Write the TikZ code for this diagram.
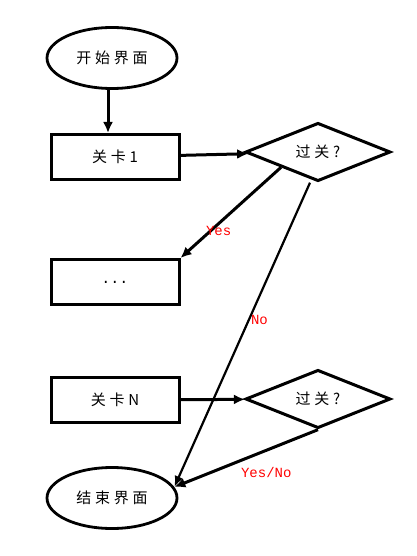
\documentclass[tikz,border=0pt]{standalone}
\usepackage{fontspec}
\setmainfont{Liberation Serif}
\newfontfamily\cjk[LetterSpace=25]{Noto Sans CJK SC}
\newfontfamily\lblfont{Liberation Mono}
\usepackage{tikz}
\usetikzlibrary{shapes.geometric,positioning,arrows.meta}
\definecolor{colorlbl}{HTML}{FF0000}
\tikzset{term/.style={draw,ellipse,line width=2.8pt,minimum width=130,minimum height=61,inner sep=0pt,font=\cjk\fontsize{15}{17}\selectfont}}
\tikzset{level/.style={draw,rectangle,line width=3pt,minimum width=128,minimum height=45,inner sep=0pt,font=\cjk\fontsize{15}{17}\selectfont}}
\tikzset{test/.style={draw,diamond,line width=3pt,minimum width=145,minimum height=56,inner sep=0pt,font=\cjk\fontsize{15}{17}\selectfont}}
\tikzset{
  edgego/.style={black,line width=3pt,-{Latex[length=11pt,width=10pt]}},
  edgeyes/.style={black,line width=3pt,-{Latex[length=11pt,width=10pt]}},
  edgeno/.style={black,line width=2.2pt,-{Latex[length=11pt,width=9pt]}},
  lbl/.style={colorlbl,font=\lblfont\fontsize{14}{16}\selectfont,inner sep=1pt}
}

\begin{document}
\begin{tikzpicture}[x=1pt,y=-1pt,inner sep=1pt]
\useasboundingbox (0,0) rectangle (416,556);
\node[term] (start) at (112,58) {开始界面};
\node[level] (lv1) at (115,157) {关卡1};
\node[test] (t1) at (318,152) {过关?};
\node[level] (lvdots) at (115,282) {\lblfont ...};
\node[level] (lvN) at (115,400) {关卡N};
\node[test] (tN) at (318,399) {过关?};
\node[term] (stop) at (112,498) {结束界面};
\draw[edgego] ([xshift=-4]start.south) -- ([xshift=-4]start.south |- lv1.north);
\draw[edgego] (lv1) -- (t1);
\draw[edgego] (lvN) -- (tN);
\draw[edgeyes] (t1.south west) to node[lbl,pos=0.62,yshift=-7] {Yes} (lvdots.north east);
\draw[edgeno] ([xshift=-8]t1.south) to node[lbl,pos=0.45,right] {No} (stop.10);
\draw[edgeyes] (tN.south) to node[lbl,pos=0.36,yshift=-22] {Yes/No} (stop.10);
\end{tikzpicture}
\end{document}
